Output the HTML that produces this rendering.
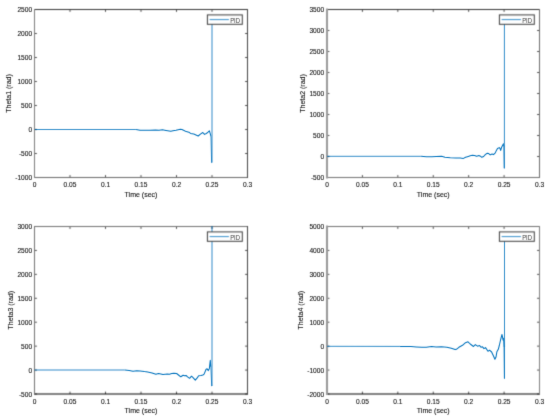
<!DOCTYPE html>
<html><head><meta charset="utf-8"><title>Theta PID plots</title>
<style>
html,body{margin:0;padding:0;background:#fff;}
svg{display:block;}
text{font-family:"Liberation Sans",Arial,Helvetica,sans-serif;font-size:6.6px;fill:#1a1a1a;}
.lb{font-size:7px;}
.lg{font-size:6.4px;fill:#333;stroke:none;}
</style></head><body>
<svg width="550" height="420" viewBox="0 0 550 420">
<defs><clipPath id="c0"><rect x="34.5" y="9.5" width="213.00" height="168.00"/></clipPath><clipPath id="c1"><rect x="327.0" y="9.5" width="212.50" height="168.00"/></clipPath><clipPath id="c2"><rect x="34.5" y="226.5" width="213.00" height="167.50"/></clipPath><clipPath id="c3"><rect x="327.0" y="226.5" width="212.50" height="167.50"/></clipPath><filter id="bl" color-interpolation-filters="sRGB" filterUnits="userSpaceOnUse" x="0" y="0" width="550" height="420"><feConvolveMatrix order="3" kernelMatrix="0.0256 0.1088 0.0256 0.1088 0.4624 0.1088 0.0256 0.1088 0.0256" divisor="1" edgeMode="none" preserveAlpha="false"/></filter><filter id="bs" color-interpolation-filters="sRGB" filterUnits="userSpaceOnUse" x="0" y="0" width="550" height="420"><feConvolveMatrix order="3" kernelMatrix="0.0100 0.0800 0.0100 0.0800 0.6400 0.0800 0.0100 0.0800 0.0100" divisor="1" edgeMode="none" preserveAlpha="false"/></filter><filter id="bw" color-interpolation-filters="sRGB" filterUnits="userSpaceOnUse" x="0" y="0" width="550" height="420"><feConvolveMatrix order="3" kernelMatrix="0.0100 0.0800 0.0100 0.0800 0.6400 0.0800 0.0100 0.0800 0.0100" divisor="1" edgeMode="none" preserveAlpha="false"/></filter><filter id="bt" color-interpolation-filters="sRGB" filterUnits="userSpaceOnUse" x="0" y="0" width="550" height="420"><feConvolveMatrix order="3" kernelMatrix="0.0100 0.0800 0.0100 0.0800 0.6400 0.0800 0.0100 0.0800 0.0100" divisor="1" edgeMode="none" preserveAlpha="false"/></filter></defs>
<rect width="550" height="420" fill="#fff"/>
<g filter="url(#bl)" stroke="#505050" stroke-width="1" fill="none">
<path d="M34.50 177.5v-2.4M34.50 9.5v2.4M70.00 177.5v-2.4M70.00 9.5v2.4M105.50 177.5v-2.4M105.50 9.5v2.4M141.00 177.5v-2.4M141.00 9.5v2.4M176.50 177.5v-2.4M176.50 9.5v2.4M212.00 177.5v-2.4M212.00 9.5v2.4M247.50 177.5v-2.4M247.50 9.5v2.4M34.5 177.50h2.4M247.5 177.50h-2.4M34.5 153.50h2.4M247.5 153.50h-2.4M34.5 129.50h2.4M247.5 129.50h-2.4M34.5 105.50h2.4M247.5 105.50h-2.4M34.5 81.50h2.4M247.5 81.50h-2.4M34.5 57.50h2.4M247.5 57.50h-2.4M34.5 33.50h2.4M247.5 33.50h-2.4M34.5 9.50h2.4M247.5 9.50h-2.4"/>
<path d="M34.5 9.5H247.5" stroke="rgb(55,55,55)" stroke-width="1" stroke-linecap="square"/>
<path d="M34.5 177.5H247.5" stroke="rgb(106,106,106)" stroke-width="1" stroke-linecap="square"/>
<path d="M34.5 9.5V177.5" stroke="rgb(123,123,123)" stroke-width="1" stroke-linecap="square"/>
<path d="M247.5 9.5V177.5" stroke="rgb(68,68,68)" stroke-width="1" stroke-linecap="square"/>
<path d="M327.00 177.5v-2.4M327.00 9.5v2.4M362.42 177.5v-2.4M362.42 9.5v2.4M397.83 177.5v-2.4M397.83 9.5v2.4M433.25 177.5v-2.4M433.25 9.5v2.4M468.67 177.5v-2.4M468.67 9.5v2.4M504.08 177.5v-2.4M504.08 9.5v2.4M539.50 177.5v-2.4M539.50 9.5v2.4M327.0 177.50h2.4M539.5 177.50h-2.4M327.0 156.50h2.4M539.5 156.50h-2.4M327.0 135.50h2.4M539.5 135.50h-2.4M327.0 114.50h2.4M539.5 114.50h-2.4M327.0 93.50h2.4M539.5 93.50h-2.4M327.0 72.50h2.4M539.5 72.50h-2.4M327.0 51.50h2.4M539.5 51.50h-2.4M327.0 30.50h2.4M539.5 30.50h-2.4M327.0 9.50h2.4M539.5 9.50h-2.4"/>
<path d="M327.0 9.5H539.5" stroke="rgb(55,55,55)" stroke-width="1" stroke-linecap="square"/>
<path d="M327.0 177.5H539.5" stroke="rgb(115,115,115)" stroke-width="1" stroke-linecap="square"/>
<path d="M327.0 9.5V177.5" stroke="rgb(154,154,154)" stroke-width="2" stroke-linecap="square"/>
<path d="M539.5 9.5V177.5" stroke="rgb(108,108,108)" stroke-width="1" stroke-linecap="square"/>
<path d="M34.50 394.0v-2.4M34.50 226.5v2.4M70.00 394.0v-2.4M70.00 226.5v2.4M105.50 394.0v-2.4M105.50 226.5v2.4M141.00 394.0v-2.4M141.00 226.5v2.4M176.50 394.0v-2.4M176.50 226.5v2.4M212.00 394.0v-2.4M212.00 226.5v2.4M247.50 394.0v-2.4M247.50 226.5v2.4M34.5 394.00h2.4M247.5 394.00h-2.4M34.5 370.07h2.4M247.5 370.07h-2.4M34.5 346.14h2.4M247.5 346.14h-2.4M34.5 322.21h2.4M247.5 322.21h-2.4M34.5 298.29h2.4M247.5 298.29h-2.4M34.5 274.36h2.4M247.5 274.36h-2.4M34.5 250.43h2.4M247.5 250.43h-2.4M34.5 226.50h2.4M247.5 226.50h-2.4"/>
<path d="M34.5 226.5H247.5" stroke="rgb(115,115,115)" stroke-width="1" stroke-linecap="square"/>
<path d="M34.5 394.0H247.5" stroke="rgb(0,0,0)" stroke-width="1" stroke-linecap="square"/>
<path d="M34.5 226.5V394.0" stroke="rgb(115,115,115)" stroke-width="1" stroke-linecap="square"/>
<path d="M247.5 226.5V394.0" stroke="rgb(67,67,67)" stroke-width="1" stroke-linecap="square"/>
<path d="M327.00 394.0v-2.4M327.00 226.5v2.4M362.42 394.0v-2.4M362.42 226.5v2.4M397.83 394.0v-2.4M397.83 226.5v2.4M433.25 394.0v-2.4M433.25 226.5v2.4M468.67 394.0v-2.4M468.67 226.5v2.4M504.08 394.0v-2.4M504.08 226.5v2.4M539.50 394.0v-2.4M539.50 226.5v2.4M327.0 394.00h2.4M539.5 394.00h-2.4M327.0 370.07h2.4M539.5 370.07h-2.4M327.0 346.14h2.4M539.5 346.14h-2.4M327.0 322.21h2.4M539.5 322.21h-2.4M327.0 298.29h2.4M539.5 298.29h-2.4M327.0 274.36h2.4M539.5 274.36h-2.4M327.0 250.43h2.4M539.5 250.43h-2.4M327.0 226.50h2.4M539.5 226.50h-2.4"/>
<path d="M327.0 226.5H539.5" stroke="rgb(115,115,115)" stroke-width="1" stroke-linecap="square"/>
<path d="M327.0 394.0H539.5" stroke="rgb(0,0,0)" stroke-width="1" stroke-linecap="square"/>
<path d="M327.0 226.5V394.0" stroke="rgb(151,151,151)" stroke-width="2" stroke-linecap="square"/>
<path d="M539.5 226.5V394.0" stroke="rgb(127,127,127)" stroke-width="1" stroke-linecap="square"/>
</g>
<g filter="url(#bs)" stroke="#0072BD" stroke-opacity="0.8" stroke-width="1" fill="none">
<path clip-path="url(#c0)" d="M34.5 129.5L136 129.5M211 136.5L211.6 162.6L212.0 162.6V17"/>
<path clip-path="url(#c1)" d="M327 156.3L421 156.3M503.8 146.7L504.2 168.3L504.4 168.3V17"/>
<path clip-path="url(#c2)" d="M34.5 370L124.8 370M210.9 367.2L211.7 386L212.0 386V223.5"/>
<path clip-path="url(#c3)" d="M327 346.3L400 346.4M504 346.9L504.4 378.6L504.5 378.6V234"/>
</g>
<g filter="url(#bw)" stroke="#0072BD" stroke-width="1.05" fill="none" stroke-linejoin="round">
<polyline clip-path="url(#c0)" points="136.00,129.50 140.00,130.20 150.00,130.30 155.50,129.90 159.00,130.20 162.50,129.80 166.00,130.40 170.80,131.20 173.00,130.80 176.00,130.30 180.30,129.30 182.00,129.60 184.00,130.50 186.20,131.60 188.90,132.20 190.50,133.40 193.80,134.10 196.50,135.20 198.20,136.00 200.40,134.10 202.80,132.50 204.50,134.40 206.40,133.50 208.00,132.20 209.40,130.80 210.20,133.30 211.00,136.50"/>
<polyline clip-path="url(#c1)" points="421.00,156.30 426.40,156.70 431.80,156.70 436.20,156.40 441.60,156.30 444.90,157.30 450.30,157.80 455.80,158.00 460.20,158.00 463.40,158.40 465.60,157.30 468.30,156.40 470.20,155.80 472.40,155.30 474.50,155.50 476.70,156.30 478.90,155.60 480.40,156.20 481.80,157.30 483.60,156.50 485.50,154.40 487.30,153.30 488.70,153.60 490.20,154.90 492.00,154.00 493.50,154.60 495.30,152.90 496.40,150.40 497.50,148.50 499.30,147.60 500.00,148.50 500.70,150.40 501.50,147.50 502.50,145.60 503.50,143.80 503.80,146.70"/>
<polyline clip-path="url(#c2)" points="124.80,370.00 129.20,370.50 133.00,371.30 136.80,370.70 140.10,370.90 144.40,371.60 147.70,372.00 152.10,372.90 155.90,374.20 158.60,373.50 163.00,374.50 167.30,374.00 169.50,374.20 171.70,373.50 173.90,373.20 176.60,373.50 178.50,375.00 180.80,376.80 183.10,375.20 184.60,375.80 186.10,375.50 187.60,376.80 189.60,378.30 191.50,376.20 192.60,377.10 195.30,380.20 197.20,377.90 198.70,375.80 201.00,375.50 202.90,375.00 204.10,374.10 206.00,369.50 207.10,368.70 208.30,370.60 209.40,368.40 210.30,360.30 210.90,367.20"/>
<polyline clip-path="url(#c3)" points="400.00,346.40 410.90,346.50 416.40,346.90 421.80,347.20 426.20,347.20 431.60,346.60 436.00,346.90 441.40,346.70 446.90,347.20 451.30,348.20 455.10,349.60 456.40,349.30 458.90,347.30 462.50,345.30 465.50,342.70 468.00,341.80 470.20,344.00 473.50,346.50 475.30,344.60 477.50,346.20 479.60,345.50 481.10,347.30 482.50,346.80 484.00,348.70 485.50,347.60 488.00,351.30 489.50,350.20 491.60,352.00 493.50,356.00 494.90,359.30 496.00,357.10 496.90,351.70 498.30,349.30 499.30,345.50 500.70,339.30 502.00,334.50 502.60,337.40 503.10,340.20 503.60,338.30 504.00,346.90"/>
</g>
<g filter="url(#bl)" stroke-width="1">
<rect x="207.40" y="14.90" width="34.9" height="9.4" fill="#fff" stroke="#3a3a3a"/><path d="M209.60 19.60H228.90" stroke="#0072BD" stroke-opacity="0.8"/>
<rect x="499.40" y="14.90" width="34.9" height="9.4" fill="#fff" stroke="#3a3a3a"/><path d="M501.60 19.60H520.90" stroke="#0072BD" stroke-opacity="0.8"/>
<rect x="207.40" y="231.90" width="34.9" height="9.4" fill="#fff" stroke="#3a3a3a"/><path d="M209.60 236.60H228.90" stroke="#0072BD" stroke-opacity="0.8"/>
<rect x="499.40" y="231.90" width="34.9" height="9.4" fill="#fff" stroke="#3a3a3a"/><path d="M501.60 236.60H520.90" stroke="#0072BD" stroke-opacity="0.8"/>
</g>
<g filter="url(#bt)" stroke="#1a1a1a" stroke-width="0.12">
<text x="34.50" y="187.00" text-anchor="middle">0</text>
<text x="70.00" y="187.00" text-anchor="middle">0.05</text>
<text x="105.50" y="187.00" text-anchor="middle">0.1</text>
<text x="141.00" y="187.00" text-anchor="middle">0.15</text>
<text x="176.50" y="187.00" text-anchor="middle">0.2</text>
<text x="212.00" y="187.00" text-anchor="middle">0.25</text>
<text x="247.50" y="187.00" text-anchor="middle">0.3</text>
<text x="32.10" y="180.30" text-anchor="end">-1000</text>
<text x="32.10" y="156.30" text-anchor="end">-500</text>
<text x="32.10" y="132.30" text-anchor="end">0</text>
<text x="32.10" y="108.30" text-anchor="end">500</text>
<text x="32.10" y="84.30" text-anchor="end">1000</text>
<text x="32.10" y="60.30" text-anchor="end">1500</text>
<text x="32.10" y="36.30" text-anchor="end">2000</text>
<text x="32.10" y="12.30" text-anchor="end">2500</text>
<text x="141.00" y="196.50" text-anchor="middle" class="lb">Time (sec)</text>
<text transform="translate(10.8 93.50) rotate(-90)" text-anchor="middle" class="lb">Theta1 (rad)</text>
<text transform="translate(230.20 23.00) scale(0.92 1)" class="lg">PID</text>
<text x="327.00" y="187.00" text-anchor="middle">0</text>
<text x="362.42" y="187.00" text-anchor="middle">0.05</text>
<text x="397.83" y="187.00" text-anchor="middle">0.1</text>
<text x="433.25" y="187.00" text-anchor="middle">0.15</text>
<text x="468.67" y="187.00" text-anchor="middle">0.2</text>
<text x="504.08" y="187.00" text-anchor="middle">0.25</text>
<text x="539.50" y="187.00" text-anchor="middle">0.3</text>
<text x="324.10" y="180.30" text-anchor="end">-500</text>
<text x="324.10" y="159.30" text-anchor="end">0</text>
<text x="324.10" y="138.30" text-anchor="end">500</text>
<text x="324.10" y="117.30" text-anchor="end">1000</text>
<text x="324.10" y="96.30" text-anchor="end">1500</text>
<text x="324.10" y="75.30" text-anchor="end">2000</text>
<text x="324.10" y="54.30" text-anchor="end">2500</text>
<text x="324.10" y="33.30" text-anchor="end">3000</text>
<text x="324.10" y="12.30" text-anchor="end">3500</text>
<text x="433.25" y="196.50" text-anchor="middle" class="lb">Time (sec)</text>
<text transform="translate(304.8 93.50) rotate(-90)" text-anchor="middle" class="lb">Theta2 (rad)</text>
<text transform="translate(522.20 23.00) scale(0.92 1)" class="lg">PID</text>
<text x="34.50" y="403.50" text-anchor="middle">0</text>
<text x="70.00" y="403.50" text-anchor="middle">0.05</text>
<text x="105.50" y="403.50" text-anchor="middle">0.1</text>
<text x="141.00" y="403.50" text-anchor="middle">0.15</text>
<text x="176.50" y="403.50" text-anchor="middle">0.2</text>
<text x="212.00" y="403.50" text-anchor="middle">0.25</text>
<text x="247.50" y="403.50" text-anchor="middle">0.3</text>
<text x="32.10" y="396.80" text-anchor="end">-500</text>
<text x="32.10" y="372.87" text-anchor="end">0</text>
<text x="32.10" y="348.94" text-anchor="end">500</text>
<text x="32.10" y="325.01" text-anchor="end">1000</text>
<text x="32.10" y="301.09" text-anchor="end">1500</text>
<text x="32.10" y="277.16" text-anchor="end">2000</text>
<text x="32.10" y="253.23" text-anchor="end">2500</text>
<text x="32.10" y="229.30" text-anchor="end">3000</text>
<text x="141.00" y="413.00" text-anchor="middle" class="lb">Time (sec)</text>
<text transform="translate(12.6 310.25) rotate(-90)" text-anchor="middle" class="lb">Theta3 (rad)</text>
<text transform="translate(230.20 240.00) scale(0.92 1)" class="lg">PID</text>
<text x="327.00" y="403.50" text-anchor="middle">0</text>
<text x="362.42" y="403.50" text-anchor="middle">0.05</text>
<text x="397.83" y="403.50" text-anchor="middle">0.1</text>
<text x="433.25" y="403.50" text-anchor="middle">0.15</text>
<text x="468.67" y="403.50" text-anchor="middle">0.2</text>
<text x="504.08" y="403.50" text-anchor="middle">0.25</text>
<text x="539.50" y="403.50" text-anchor="middle">0.3</text>
<text x="324.10" y="396.80" text-anchor="end">-2000</text>
<text x="324.10" y="372.87" text-anchor="end">-1000</text>
<text x="324.10" y="348.94" text-anchor="end">0</text>
<text x="324.10" y="325.01" text-anchor="end">1000</text>
<text x="324.10" y="301.09" text-anchor="end">2000</text>
<text x="324.10" y="277.16" text-anchor="end">3000</text>
<text x="324.10" y="253.23" text-anchor="end">4000</text>
<text x="324.10" y="229.30" text-anchor="end">5000</text>
<text x="433.25" y="413.00" text-anchor="middle" class="lb">Time (sec)</text>
<text transform="translate(303.1 310.25) rotate(-90)" text-anchor="middle" class="lb">Theta4 (rad)</text>
<text transform="translate(522.20 240.00) scale(0.92 1)" class="lg">PID</text>
</g>
</svg>
</body></html>
